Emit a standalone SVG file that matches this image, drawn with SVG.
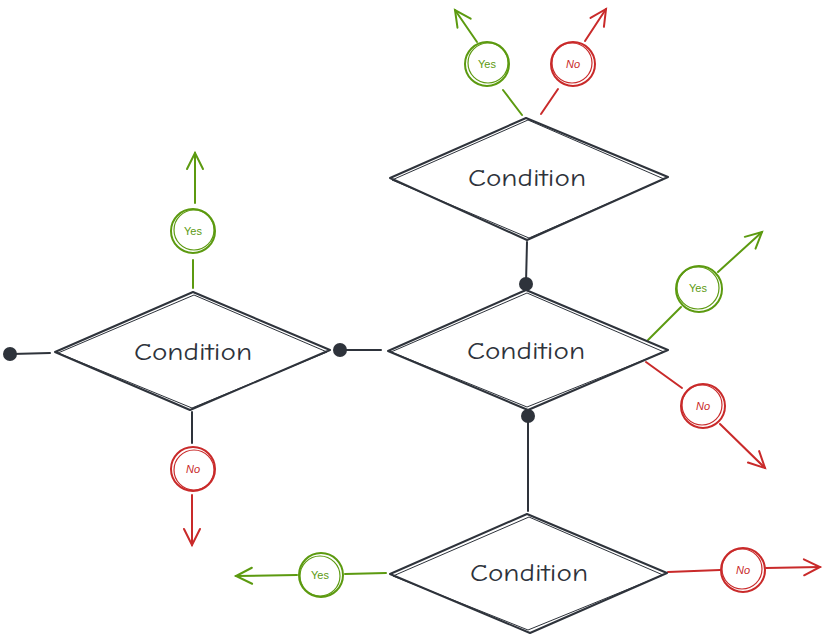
<svg xmlns="http://www.w3.org/2000/svg" width="828" height="642" viewBox="0 0 828 642">
<style>
.d{fill:none;stroke:#2e333b;stroke-width:2;stroke-linejoin:round}
.d2{fill:none;stroke:#2e333b;stroke-width:1;stroke-linejoin:round}
.lbl{font-family:"Comic Neue","Liberation Sans",sans-serif;font-size:25px;fill:#2e333b;text-anchor:middle;dominant-baseline:central}
.g{stroke:#5c9a10;fill:none;stroke-width:2;stroke-linecap:round}
.r{stroke:#c92a2a;fill:none;stroke-width:2;stroke-linecap:round}
.k{stroke:#2e333b;fill:none;stroke-width:2;stroke-linecap:round}
.g1{stroke:#5c9a10;fill:none;stroke-width:1.2}
.r1{stroke:#c92a2a;fill:none;stroke-width:1.2}
.tg{font-family:"Liberation Sans",sans-serif;font-size:11px;fill:#5c9a10;text-anchor:middle;dominant-baseline:central}
.tr{font-family:"Liberation Sans",sans-serif;font-size:11px;fill:#c92a2a;text-anchor:middle;dominant-baseline:central;font-style:italic}
.dot{fill:#2e333b}
</style>
<defs>
<marker id="ag" markerUnits="userSpaceOnUse" markerWidth="30" markerHeight="30" refX="0" refY="0" viewBox="-20 -15 30 30" orient="auto" overflow="visible">
<path d="M-16,-8 L0,0 L-16,8" fill="none" stroke="#5c9a10" stroke-width="2" stroke-linecap="round"/>
</marker>
<marker id="ar" markerUnits="userSpaceOnUse" markerWidth="30" markerHeight="30" refX="0" refY="0" viewBox="-20 -15 30 30" orient="auto" overflow="visible">
<path d="M-16,-8 L0,0 L-16,8" fill="none" stroke="#c92a2a" stroke-width="2" stroke-linecap="round"/>
</marker>
</defs>
<rect width="828" height="642" fill="#ffffff"/>

<g id="connectors">
<!-- dark links -->
<line class="k" x1="527" y1="242" x2="526" y2="283"/>
<circle class="dot" cx="526" cy="284" r="7"/>
<line class="k" x1="528" y1="417" x2="528" y2="511"/>
<circle class="dot" cx="528" cy="416" r="7"/>
<line class="k" x1="346" y1="350" x2="381" y2="350"/>
<circle class="dot" cx="340" cy="350" r="7"/>
<line class="k" x1="12" y1="354" x2="50" y2="353"/>
<circle class="dot" cx="10" cy="354" r="7"/>

<!-- top diamond -->
<line class="g" x1="522" y1="115" x2="503" y2="90"/>
<line class="g" x1="477" y1="42" x2="455" y2="10" marker-end="url(#ag)"/>
<line class="r" x1="541" y1="114" x2="558" y2="89"/>
<line class="r" x1="585" y1="41" x2="606" y2="9" marker-end="url(#ar)"/>

<!-- left diamond -->
<line class="g" x1="193" y1="288" x2="193" y2="260"/>
<line class="g" x1="195" y1="203" x2="195" y2="153" marker-end="url(#ag)"/>
<line class="k" x1="192" y1="412" x2="192" y2="443"/>
<line class="r" x1="192" y1="495" x2="192" y2="545" marker-end="url(#ar)"/>

<!-- middle diamond -->
<line class="g" x1="648" y1="340" x2="681" y2="307"/>
<line class="g" x1="718" y1="272" x2="762" y2="232" marker-end="url(#ag)"/>
<line class="r" x1="646" y1="362" x2="682" y2="388"/>
<line class="r" x1="720" y1="424" x2="765" y2="468" marker-end="url(#ar)"/>

<!-- bottom diamond -->
<line class="g" x1="386" y1="573" x2="345" y2="574"/>
<line class="g" x1="297" y1="575" x2="236" y2="576" marker-end="url(#ag)"/>
<line class="r" x1="668" y1="572" x2="720" y2="570"/>
<line class="r" x1="766" y1="568" x2="820" y2="567" marker-end="url(#ar)"/>
</g>

<g id="cond-top">
<path class="d" d="M390,178 L526,118 L668,177 L527,240 Z"/>
<path class="d2" d="M392,180 L528,120 L664,179 L529,238 Z"/>
<text class="lbl" x="527" y="177" textLength="118" lengthAdjust="spacingAndGlyphs">Condition</text>
</g>

<g id="cond-middle">
<path class="d" d="M388,351 L526,290 L668,350 L528,410 Z"/>
<path class="d2" d="M391,352 L527,293 L664,352 L527,407 Z"/>
<text class="lbl" x="526" y="350" textLength="118" lengthAdjust="spacingAndGlyphs">Condition</text>
</g>

<g id="cond-left">
<path class="d" d="M55,352 L193,292 L330,350 L190,410 Z"/>
<path class="d2" d="M58,353 L194,295 L327,352 L192,408 Z"/>
<text class="lbl" x="193" y="351" textLength="118" lengthAdjust="spacingAndGlyphs">Condition</text>
</g>

<g id="cond-bottom">
<path class="d" d="M390,574 L527,514 L667,573 L530,633 Z"/>
<path class="d2" d="M393,576 L529,517 L663,575 L528,630 Z"/>
<text class="lbl" x="529" y="572" textLength="118" lengthAdjust="spacingAndGlyphs">Condition</text>
</g>

<g id="yes-top">
<circle class="g" cx="487" cy="64" r="22"/>
<circle class="g1" cx="488" cy="63" r="20"/>
<text class="tg" x="487" y="64">Yes</text>
</g>
<g id="no-top">
<circle class="r" cx="573" cy="64" r="22"/>
<circle class="r1" cx="572" cy="63" r="20"/>
<text class="tr" x="573" y="64">No</text>
</g>
<g id="yes-left">
<circle class="g" cx="193" cy="231" r="22"/>
<circle class="g1" cx="194" cy="230" r="20"/>
<text class="tg" x="193" y="231">Yes</text>
</g>
<g id="no-left">
<circle class="r" cx="193" cy="469" r="22"/>
<circle class="r1" cx="194" cy="470" r="20"/>
<text class="tr" x="193" y="469">No</text>
</g>
<g id="yes-middle">
<circle class="g" cx="699" cy="289" r="23"/>
<circle class="g1" cx="698" cy="288" r="21"/>
<text class="tg" x="698" y="288">Yes</text>
</g>
<g id="no-middle">
<circle class="r" cx="703" cy="406" r="22"/>
<circle class="r1" cx="702" cy="405" r="20"/>
<text class="tr" x="703" y="406">No</text>
</g>
<g id="yes-bottom">
<circle class="g" cx="321" cy="575" r="22"/>
<circle class="g1" cx="320" cy="576" r="20"/>
<text class="tg" x="320" y="575">Yes</text>
</g>
<g id="no-bottom">
<circle class="r" cx="743" cy="570" r="22"/>
<circle class="r1" cx="742" cy="569" r="20"/>
<text class="tr" x="743" y="570">No</text>
</g>
</svg>
